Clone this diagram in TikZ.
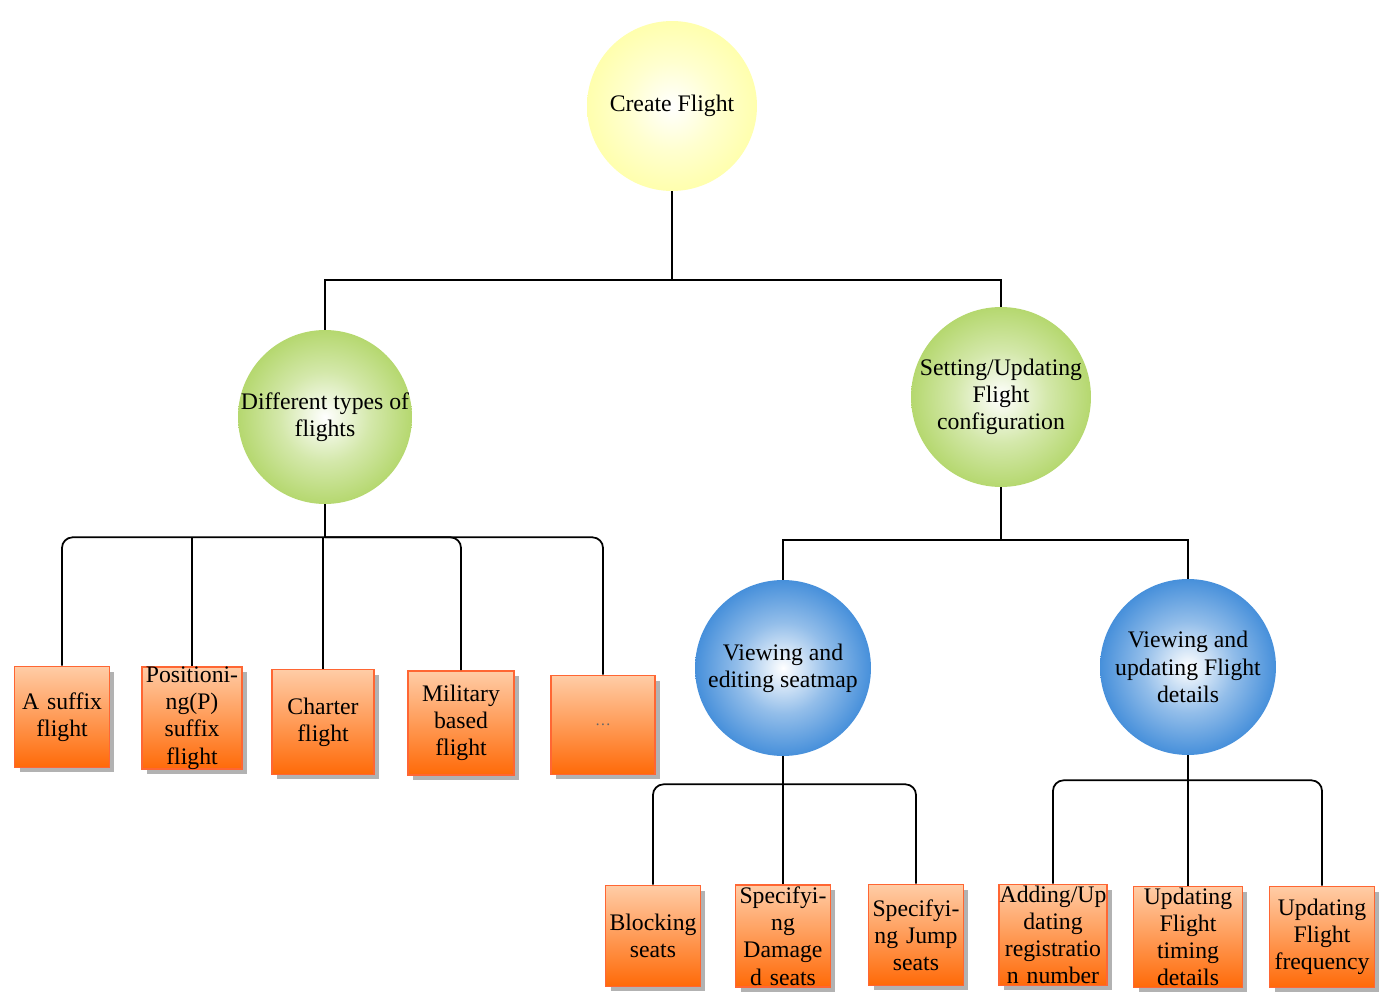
\documentclass[tikz,border=0pt]{standalone}
\usepackage{fontspec}
\setmainfont{Liberation Serif}
\usetikzlibrary{positioning,calc,shadows}
\definecolor{ballyellow}{HTML}{FFFFA8}
\definecolor{ballgreen}{HTML}{B0D565}
\definecolor{ballblue}{HTML}{3A88D8}
\definecolor{leaftop}{HTML}{FFCCA6}
\definecolor{leafbot}{HTML}{FF6A08}
\definecolor{leafedge}{HTML}{FF6633}
\pgfdeclareradialshading{yellowball}{\pgfpoint{0bp}{0bp}}{color(0bp)=(white); color(13bp)=(ballyellow!55!white); color(27bp)=(ballyellow); color(50bp)=(ballyellow)}
\pgfdeclareradialshading{greenball}{\pgfpoint{0bp}{0bp}}{color(0bp)=(white); color(13bp)=(ballgreen!55!white); color(27bp)=(ballgreen); color(50bp)=(ballgreen)}
\pgfdeclareradialshading{blueball}{\pgfpoint{0bp}{0bp}}{color(0bp)=(white); color(13bp)=(ballblue!55!white); color(27bp)=(ballblue); color(50bp)=(ballblue)}

\begin{document}
\begin{tikzpicture}[x=0.02cm,y=-0.02cm,
  every node/.style={font=\fontsize{13.5}{15.5}\selectfont},
  ball/.style={circle,inner sep=0pt},
  balltext/.style={align=center,inner sep=0pt},
  leaf/.style={rectangle,draw=leafedge,line width=1.1pt,top color=leaftop,bottom color=leafbot,
    inner sep=0pt,align=center,
    drop shadow={shadow xshift=0.1cm,shadow yshift=-0.1cm,fill=black!30,opacity=1}},
  link/.style={line width=1pt},
  bus/.style={line width=1pt,rounded corners=6pt}]
\useasboundingbox (0,0) rectangle (1394,1007);

% top level
\node[ball,shading=yellowball,minimum size=3.4cm] (cf) at (672,106) {};
\node[balltext] (cf-t) at (cf) {Create Flight};

% second level
\node[ball,shading=greenball,minimum size=3.48cm] (dtf) at (325,417) {};
\node[balltext] (dtf-t) at (dtf) {Different types of\\flights};
\node[ball,shading=greenball,minimum size=3.6cm] (suc) at (1001,397) {};
\node[balltext] (suc-t) at (suc) {Setting/Updating\\Flight\\configuration};

% third level
\node[ball,shading=blueball,minimum size=3.52cm] (ves) at (783,668) {};
\node[balltext] (ves-t) at (ves) {Viewing and\\editing seatmap};
\node[ball,shading=blueball,minimum size=3.52cm] (vud) at (1188,667) {};
\node[balltext] (vud-t) at (vud) {Viewing and\\updating Flight\\details};

% flight types
\foreach \n/\x/\y/\w/\h/\t in {as/62/717/1.9/2.02/{A suffix\\flight},
    pp/192/718/2.0/2.02/{Positioni-\\ng(P)\\suffix\\flight},
    ch/323/722/2.04/2.1/{Charter\\flight},
    mb/461/723/2.12/2.08/{Military\\based\\flight},
    dots/603/725/2.08/1.98/{\textcolor{black!60}{\small\ldots}}} {
  \node[leaf,text width=\w cm,minimum height=\h cm] (\n) at (\x,\y) {\t};
}

% seatmap and details
\foreach \n/\x/\y/\w/\h/\t in {bs/653/936/1.9/2.02/{Blocking\\seats},
    sd/783/936/1.9/2.04/{Specifyi-\\ng\\Damage\\d seats},
    sj/916/935/1.9/2.02/{Specifyi-\\ng Jump\\seats},
    ar/1053/935/2.16/2.02/{Adding/Up\\dating\\registratio\\n number},
    ut/1188/937/2.18/2.02/{Updating\\Flight\\timing\\details},
    uf/1322/937/2.1/2.02/{Updating\\Flight\\frequency}} {
  \node[leaf,text width=\w cm,minimum height=\h cm] (\n) at (\x,\y) {\t};
}

% connectors
\draw[link] (cf.south) -- ++(0,89) coordinate (cf-bus);
\draw[link] (cf-bus) -| (dtf.north);
\draw[link] (cf-bus) -| (suc.north);
\draw[link] (dtf.south) -- ++(0,33) coordinate (dtf-bus);
\draw[bus] (as.north) |- (dtf-bus) -| (dots.north);
\draw[bus] (dtf-bus) -| (mb.north);
\foreach \n in {pp,ch}
  \draw[link] (\n.north) -- (\n.north |- dtf-bus);
\draw[link] (suc.south) -- ++(0,53) coordinate (suc-bus);
\draw[link] (suc-bus) -| (ves.north);
\draw[link] (suc-bus) -| (vud.north);
\draw[link] (ves.south) -- ++(0,28) coordinate (ves-bus);
\draw[bus] (bs.north) |- (ves-bus) -| (sj.north);
\draw[link] (sd.north) -- (ves-bus);
\draw[link] (vud.south) -- ++(0,25) coordinate (vud-bus);
\draw[bus] (ar.north) |- (vud-bus) -| (uf.north);
\draw[link] (ut.north) -- (vud-bus);
\end{tikzpicture}
\end{document}
